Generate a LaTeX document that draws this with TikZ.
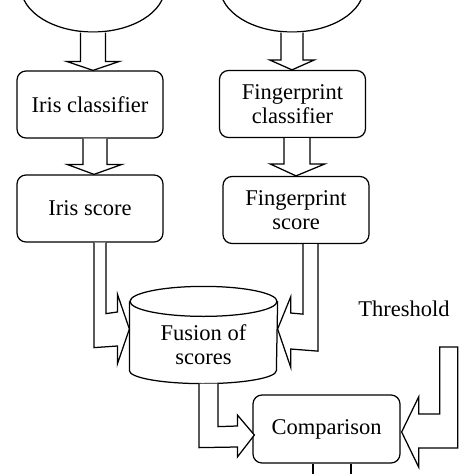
\documentclass[tikz,border=0pt]{standalone}
\usepackage{fontspec}
\setmainfont{Liberation Serif}
\usetikzlibrary{calc,shapes.geometric}
\begin{document}
\begin{tikzpicture}[x=1pt,y=-1pt,line width=1.25pt,
  txt/.style={font=\fontsize{22.5}{24}\selectfont,align=center},
  box/.style={txt,draw,fill=white,rounded corners=9pt,inner sep=0pt,minimum width=146pt,minimum height=67pt},
  fat/.style={draw,fill=white,line join=miter}]
\useasboundingbox (0,0) rectangle (474,474);
% sources
\node[draw,fill=white,ellipse,minimum width=144pt,minimum height=90pt] (e1) at (93,-13) {};
\node[draw,fill=white,ellipse,minimum width=144pt,minimum height=90pt] (e2) at (292,-13) {};
% boxes
\node[box] (b1) at (90,104.5) {Iris classifier};
\node[box] (b2) at (292.5,104) {Fingerprint\\classifier};
\node[box] (b3) at (90,208.5) {Iris score};
\node[box] (b4) at (296,210) {Fingerprint\\score};
\node[box,minimum width=147pt,minimum height=68pt] (cmp) at (326.5,429) {Comparison};
\node[txt] (thr) at (404,309) {Threshold};
% cylinder
\node[minimum width=147pt,minimum height=96pt,inner sep=0pt] (c) at (203.5,335) {};
\draw[fill=white] ($(c.north west)+(0,15)$) -- ($(c.south west)+(0,-13)$)
   arc[start angle=180,end angle=0,x radius=73.5,y radius=13]
   -- ($(c.north east)+(0,15)$);
\draw ($(c.north)+(0,15)$) ellipse[x radius=73.5,y radius=15];
\node[txt] (ct) at (203.5,345) {Fusion of\\scores};
% straight fat arrows
\draw[fat] ($(e1.south)+(-12.5,0)$) -- ($(e1.south |- b1.north)+(-12.5,-9)$)
  -- ($(e1.south |- b1.north)+(-26.5,-9)$) -- (e1.south |- b1.north)
  -- ($(e1.south |- b1.north)+(26.5,-9)$) -- ($(e1.south |- b1.north)+(12.5,-9)$)
  -- ($(e1.south)+(12.5,0)$);
\draw[fat] ($(e2.south)+(-11,0)$) -- ($(e2.south |- b2.north)+(-11,-10)$)
  -- ($(e2.south |- b2.north)+(-22.5,-10)$) -- (e2.south |- b2.north)
  -- ($(e2.south |- b2.north)+(22.5,-10)$) -- ($(e2.south |- b2.north)+(11,-10)$)
  -- ($(e2.south)+(11,0)$);
\draw[fat] ($(b1.south)+(-7,0)$) -- ($(b3.north)+(-7,-10)$) -- ($(b3.north)+(-23,-10)$)
  -- ($(b3.north)+(4,0)$) -- ($(b3.north)+(32,-10)$) -- ($(b3.north)+(17,-10)$)
  -- ($(b1.south)+(17,0)$);
\draw[fat] ($(b4.north |- b2.south)+(-12,0)$) -- ($(b4.north)+(-12,-12)$) -- ($(b4.north)+(-26,-12)$)
  -- (b4.north) -- ($(b4.north)+(29,-12)$) -- ($(b4.north)+(14,-12)$)
  -- ($(b4.north |- b2.south)+(14,0)$);
% elbow fat arrows into fusion
\draw[fat] ($(b3.south)+(4,0)$) -- ($(b3.south)+(4,105)$) -- ($(c.west)+(-12,11)$)
  -- ($(c.west)+(-12,29)$) -- ($(c.west)+(0,-6)$) -- ($(c.west)+(-12,-41)$)
  -- ($(c.west)+(-12,-23)$) -- ($(b3.south)+(16,71)$) -- ($(b3.south)+(16,0)$);
\draw[fat] ($(b4.south)+(22,0)$) -- ($(b4.south)+(22,107)$) -- ($(c.east)+(13,14)$)
  -- ($(c.east)+(13,32)$) -- ($(c.east)+(0,-6)$) -- ($(c.east)+(13,-38)$)
  -- ($(c.east)+(13,-22)$) -- ($(b4.south)+(7,70)$) -- ($(b4.south)+(7,0)$);
% fusion to comparison
\draw[fat] ($(c.south)+(14.5,0)$) -- ($(c.south)+(14.5,43)$) -- ($(cmp.west)+(-15,-3)$)
  -- ($(cmp.west)+(-15,-14)$) -- ($(cmp.west)+(2,6)$) -- ($(cmp.west)+(-15,28)$)
  -- ($(cmp.west)+(-15,18)$) -- ($(c.south)+(-4.5,64)$) -- ($(c.south)+(-4.5,0)$);
% threshold to comparison
\draw[fat] ($(cmp.east)+(39,-82)$) -- ($(cmp.east)+(39,-15)$) -- ($(cmp.east)+(18,-15)$)
  -- ($(cmp.east)+(18,-32)$) -- ($(cmp.east)+(1,3)$) -- ($(cmp.east)+(18,38)$)
  -- ($(cmp.east)+(18,19)$) -- ($(cmp.east)+(57,19)$) -- ($(cmp.east)+(57,-82)$) -- cycle;
% output stub
\draw ($(cmp.south)+(-13.5,0)$) -- ++(0,15);
\draw ($(cmp.south)+(24.5,0)$) -- ++(0,15);
\end{tikzpicture}
\end{document}
